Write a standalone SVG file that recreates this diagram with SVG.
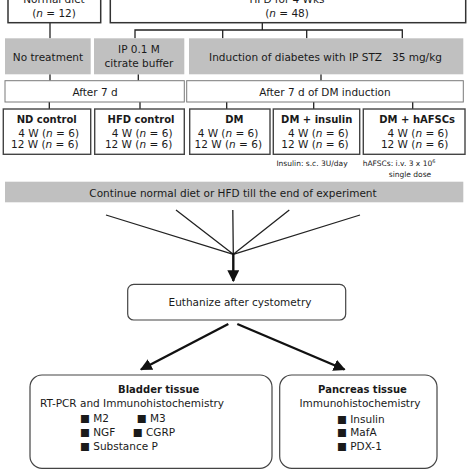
<svg xmlns="http://www.w3.org/2000/svg" width="474" height="474" viewBox="0 0 474 474">
<defs>
<style>
text{font-family:"DejaVu Sans","Liberation Sans",sans-serif;fill:#1a1a1a;font-size:10.5px}
.b{font-weight:bold;font-size:10px}
.s{font-size:7.5px}
.c{text-anchor:middle}
.e{text-anchor:end}
.top{fill:#fff;stroke:#333;stroke-width:1.5}
.gray{fill:#c0c0c0;stroke:none}
.aft{fill:#fff;stroke:#7a7a7a;stroke-width:1}
.grp{fill:#fff;stroke:#444;stroke-width:1.4}
.rnd{fill:#fff;stroke:#444;stroke-width:1.2}
.ln{fill:none;stroke:#222;stroke-width:1.3}
.th{fill:none;stroke:#111;stroke-width:2.4}
</style>
<marker id="ah" viewBox="0 0 10 10" refX="9" refY="5" markerWidth="5" markerHeight="5" orient="auto" markerUnits="strokeWidth">
<path d="M0,0 L10,5 L0,10 z" fill="#111"/>
</marker>
</defs>

<g id="connectors">
<path class="ln" d="M50,22.7 V38.3"/>
<path class="ln" d="M262.3,22.7 V30 M135,38.3 V30 H402.3 V38.3 M222.7,30 V38.3 M306.7,30 V38.3"/>
<path class="ln" d="M50,74.3 V80.7 M138.3,74.3 V80.7 M321,74.3 V80.7"/>
<path class="ln" d="M49.3,102 V109 M140,102 V109 M226.7,102 V109 M313.7,102 V109 M412.7,102 V109"/>
<path class="ln" d="M106,215 L233.3,254.3 M176,210 L233.3,254.3 M232.8,210 L233.3,254.3 M289.3,210 L233.3,254.3 M360,215 L233.3,254.3"/>
<path class="th" d="M233.3,253 V281" marker-end="url(#ah)"/>
<path class="th" d="M228.3,324 L141,369.5" marker-end="url(#ah)"/>
<path class="th" d="M237.3,324 L344.5,369.5" marker-end="url(#ah)"/>
</g>

<g id="normal-diet">
<rect class="top" x="8" y="-10" width="92.7" height="32.7"/>
<text class="c" x="54" y="2.6">Normal diet</text>
<text class="c" x="54" y="17.3">(<tspan font-style="italic">n</tspan> = 12)</text>
</g>
<g id="hfd">
<rect class="top" x="110.3" y="-10" width="355.4" height="32.7"/>
<text class="c" x="287" y="2.6">HFD for 4 Wks</text>
<text class="c" x="287" y="17.3">(<tspan font-style="italic">n</tspan> = 48)</text>
</g>

<g id="no-treatment">
<rect class="gray" x="5" y="38.3" width="85.7" height="36"/>
<text class="c" x="48" y="61">No treatment</text>
</g>
<g id="citrate">
<rect class="gray" x="94" y="38.3" width="90.3" height="36"/>
<text class="c" x="139" y="53.3">IP 0.1 M</text>
<text class="c" x="139" y="66.7">citrate buffer</text>
</g>
<g id="induction">
<rect class="gray" x="189" y="38.3" width="274.3" height="36"/>
<text class="c" x="325.5" y="61" xml:space="preserve">Induction of diabetes with IP STZ   35 mg/kg</text>
</g>

<g id="after-7d">
<rect class="aft" x="5" y="80.7" width="179.3" height="21.3"/>
<text class="c" x="95" y="95.7">After 7 d</text>
</g>
<g id="after-7d-dm">
<rect class="aft" x="186.7" y="80.7" width="276.6" height="21.3"/>
<text class="c" x="325" y="95.7">After 7 d of DM induction</text>
</g>

<g id="nd-control">
<rect class="grp" x="3.3" y="109" width="87.4" height="45.3"/>
<text class="b c" x="46.7" y="123.3">ND control</text>
<text class="e" x="79" y="136.7">4 W (<tspan font-style="italic">n</tspan> = 6)</text>
<text class="e" x="78.5" y="148.3">12 W (<tspan font-style="italic">n</tspan> = 6)</text>
</g>
<g id="hfd-control">
<rect class="grp" x="94.7" y="109" width="89.6" height="45.3"/>
<text class="b c" x="141" y="123.3">HFD control</text>
<text class="e" x="172.5" y="136.7">4 W (<tspan font-style="italic">n</tspan> = 6)</text>
<text class="e" x="172.3" y="148.3">12 W (<tspan font-style="italic">n</tspan> = 6)</text>
</g>
<g id="dm">
<rect class="grp" x="189.7" y="109" width="80.3" height="45.3"/>
<text class="b c" x="234.3" y="123.3">DM</text>
<text class="c" x="228" y="136.7">4 W (<tspan font-style="italic">n</tspan> = 6)</text>
<text class="c" x="228.3" y="148.3">12 W (<tspan font-style="italic">n</tspan> = 6)</text>
</g>
<g id="dm-insulin">
<rect class="grp" x="273.3" y="109" width="86.4" height="45.3"/>
<text class="b c" x="316.7" y="123.3">DM + insulin</text>
<text class="e" x="348.7" y="136.7">4 W (<tspan font-style="italic">n</tspan> = 6)</text>
<text class="e" x="348.7" y="148.3">12 W (<tspan font-style="italic">n</tspan> = 6)</text>
<text class="s c" x="312" y="165.7" font-size="8">Insulin: s.c. 3U/day</text>
</g>
<g id="dm-hafscs">
<rect class="grp" x="363.3" y="109" width="101.7" height="45.3"/>
<text class="b c" x="417.2" y="123.3">DM + hAFSCs</text>
<text class="e" x="448.3" y="136.7">4 W (<tspan font-style="italic">n</tspan> = 6)</text>
<text class="e" x="448.3" y="148.3">12 W (<tspan font-style="italic">n</tspan> = 6)</text>
<text class="s" x="362.7" y="165.7">hAFSCs: i.v. 3 x 10<tspan dy="-3" font-size="5">6</tspan></text>
<text class="s c" x="410" y="177">single dose</text>
</g>

<g id="continue">
<rect class="gray" x="5" y="181.7" width="458.3" height="20.6"/>
<text class="c" x="233" y="196.5">Continue normal diet or HFD till the end of experiment</text>
</g>

<g id="euthanize">
<rect class="rnd" x="127.7" y="284.3" width="218" height="35.7" rx="6"/>
<text class="c" x="240" y="306">Euthanize after cystometry</text>
</g>

<g id="bladder">
<rect class="rnd" x="30" y="375" width="242" height="93.3" rx="12"/>
<text class="b c" x="158.7" y="392.7">Bladder tissue</text>
<text class="c" x="132" y="406.7">RT-PCR and Immunohistochemistry</text>
<text x="80" y="421.7">■ M2</text>
<text x="136.7" y="421.7">■ M3</text>
<text x="80" y="435.5">■ NGF</text>
<text x="132.7" y="435.5">■ CGRP</text>
<text x="80" y="450">■ Substance P</text>
</g>

<g id="pancreas">
<rect class="rnd" x="279.7" y="375" width="157.3" height="93.3" rx="12"/>
<text class="b c" x="362.5" y="392.7">Pancreas tissue</text>
<text class="c" x="360" y="406.7">Immunohistochemistry</text>
<text x="337" y="422.7">■ Insulin</text>
<text x="337" y="436.3">■ MafA</text>
<text x="337" y="450">■ PDX-1</text>
</g>
</svg>
